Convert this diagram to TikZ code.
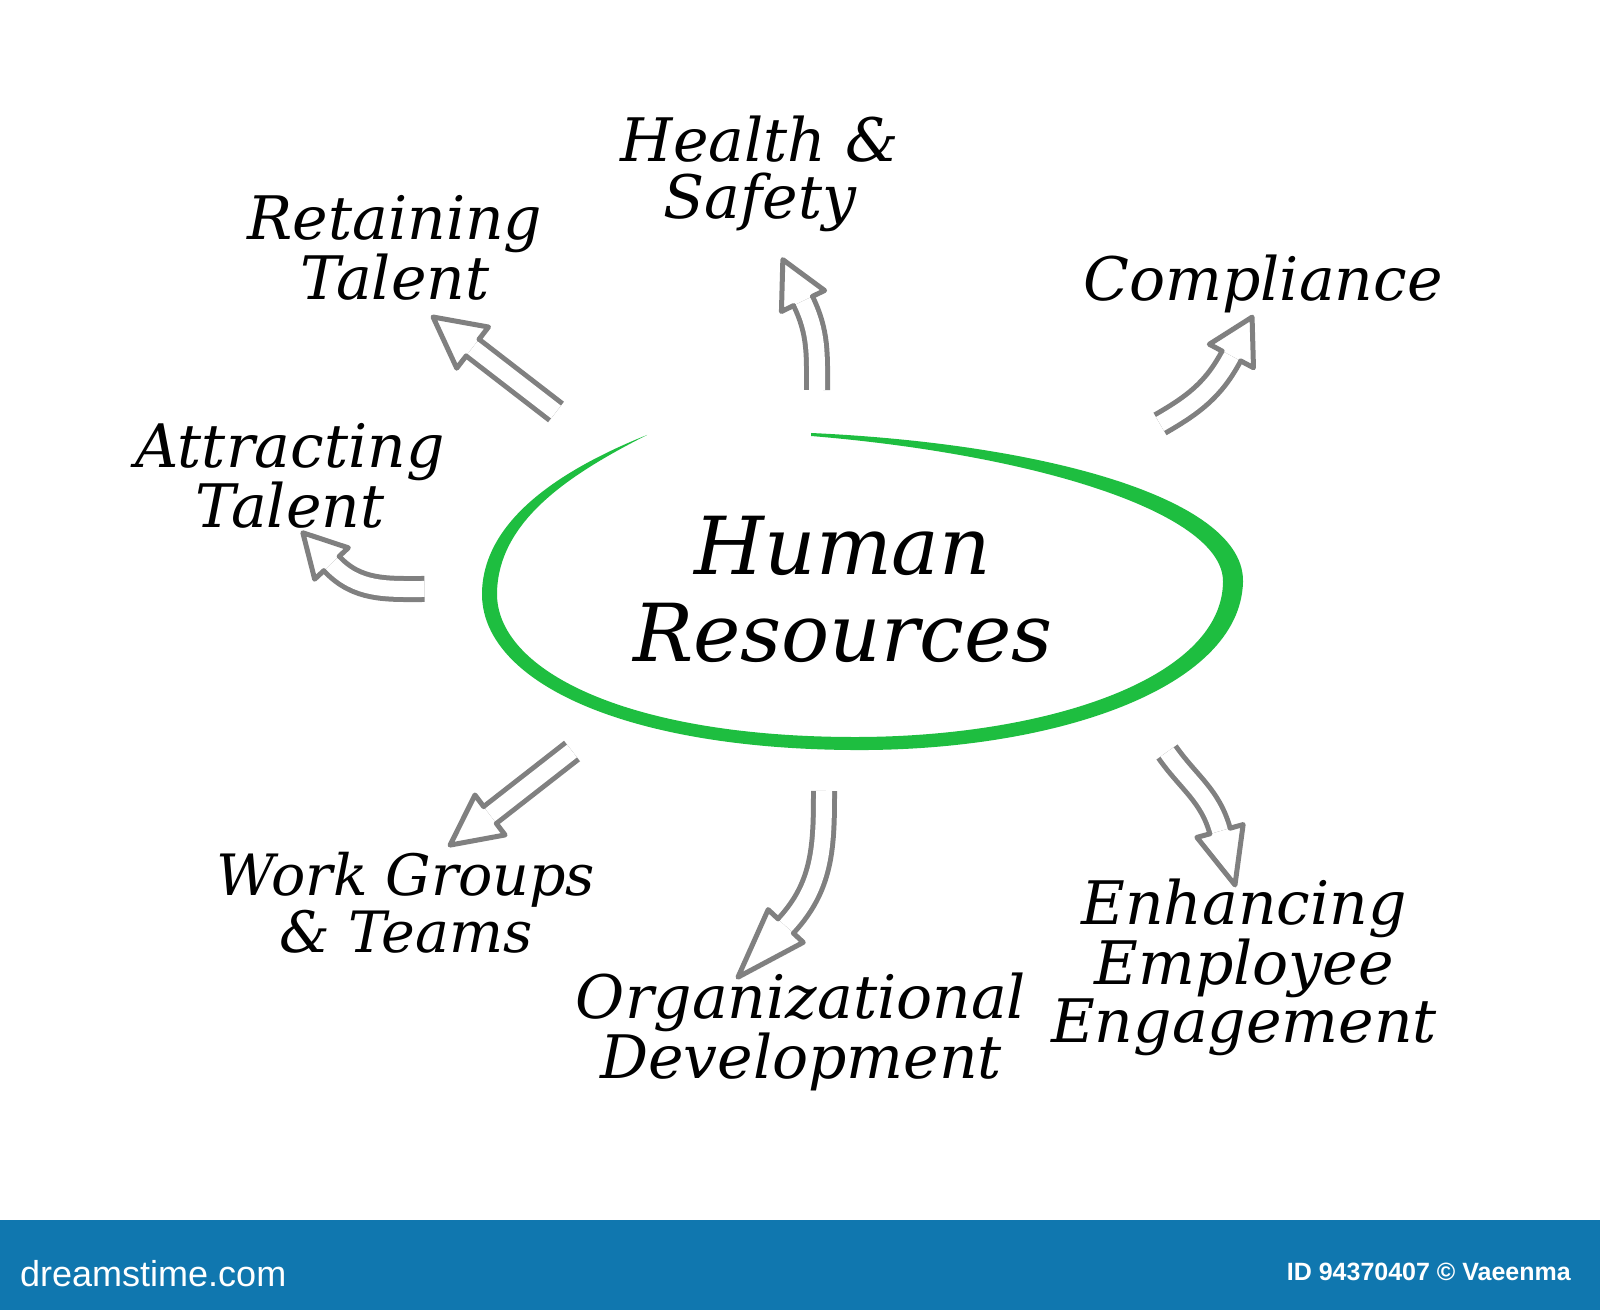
\documentclass[tikz,border=0pt]{standalone}
\usepackage{fontspec}
\setmainfont{DejaVu Serif}
\setsansfont{Liberation Sans}
\definecolor{arrowgray}{RGB}{128,128,128}
\definecolor{hrgreen}{RGB}{30,190,64}
\definecolor{banner}{RGB}{16,119,175}
\begin{document}
\begin{tikzpicture}[x=1pt,y=1pt,
  lbl/.style={font=\fontsize{60}{57}\selectfont\itshape, align=center, inner sep=0pt},
  big/.style={font=\fontsize{80}{87}\selectfont\itshape, align=center, inner sep=0pt},
  shaft/.style={draw=arrowgray, line width=5pt, double=white, double distance=16pt},
  head/.style={draw=arrowgray, line width=5pt, line join=round, line cap=round},
]
\useasboundingbox (0,0) rectangle (1600,1310);
\fill[white] (0,0) rectangle (1600,1310);

% ellipse stroke (tapered brush)
\fill[hrgreen] (811,877) .. controls (1050,866) and (1245,810) .. (1243,728)
  .. controls (1240,620) and (1050,558) .. (850,560)
  .. controls (620,562) and (480,630) .. (482,718)
  .. controls (484,790) and (560,840) .. (647,875)
  .. controls (566,834) and (499,788) .. (497,718)
  .. controls (495,640) and (626,574) .. (850,573)
  .. controls (1042,572) and (1222,630) .. (1223,728)
  .. controls (1224,796) and (1040,855) .. (811,874) -- cycle;

% labels
\node[lbl] (health) at (760,1136) {Health \&\\Safety};
\node[lbl] (retain) at (395,1062) {Retaining\\Talent};
\node[lbl] (compl) at (1263,1026) {Compliance};
\node[lbl] (attract) at (290,834) {Attracting\\Talent};
\node[big] (hr) at (843,721) {Human\\Resources};
\node[lbl,font=\fontsize{57}{57}\selectfont\itshape] (work) at (406,407) {Work Groups\\\& Teams};
\node[lbl] (org) at (801,278) {Organizational\\Development};
\node[lbl] (enh) at (1244,343) {Enhancing\\Employee\\Engagement};

% arrows
\coordinate (rtA) at (556,898); \coordinate (rtB) at (472.6,962.4);
\draw[shaft] (rtA) -- (rtB);
\begin{scope}[shift={(rtB)},rotate=142.3]\draw[head] (0,10.5) -- (0,26) -- (50,0) -- (0,-26) -- (0,-10.5);\end{scope}

\coordinate (hsA) at (817,920); \coordinate (hsB) at (803,1009);
\draw[shaft] (hsA) to[out=90,in=296] (hsB);
\begin{scope}[shift={(hsB)},rotate=116]\draw[head] (0,10.5) -- (0,24) -- (46,0) -- (0,-24) -- (0,-10.5);\end{scope}

\coordinate (cpA) at (1160,886); \coordinate (cpB) at (1231.4,954);
\draw[shaft] (cpA) to[out=30,in=242] (cpB);
\begin{scope}[shift={(cpB)},rotate=62]\draw[head] (0,10.5) -- (0,25) -- (44,0) -- (0,-25) -- (0,-10.5);\end{scope}

\coordinate (atA) at (424.5,721); \coordinate (atB) at (331.5,746.5);
\draw[shaft] (atA) to[out=180,in=313] (atB);
\begin{scope}[shift={(atB)},rotate=133]\draw[head] (0,10.5) -- (0,23) -- (42,0) -- (0,-23) -- (0,-10.5);\end{scope}

\coordinate (wgA) at (572,559); \coordinate (wgB) at (490,495);
\draw[shaft] (wgA) -- (wgB);
\begin{scope}[shift={(wgB)},rotate=217]\draw[head] (0,10.5) -- (0,25) -- (50,0) -- (0,-25) -- (0,-10.5);\end{scope}

\coordinate (odA) at (824,519); \coordinate (odB) at (785.7,384);
\draw[shaft] (odA) to[out=270,in=47] (odB);
\begin{scope}[shift={(odB)},rotate=227]\draw[head] (0,10.5) -- (0,24) -- (70,0) -- (0,-24) -- (0,-10.5);\end{scope}

\coordinate (enA) at (1167,558); \coordinate (enB) at (1220,479);
\draw[shaft] (enA) to[out=-55,in=105.5] (enB);
\begin{scope}[shift={(enB)},rotate=-74.5]\draw[head] (0,10.5) -- (0,24) -- (56,0) -- (0,-24) -- (0,-10.5);\end{scope}

% banner
\fill[banner] (0,0) rectangle (1600,90);
\node[font=\sffamily\fontsize{36}{36}\selectfont, text=white, anchor=west, inner sep=0pt] (ds) at (20,36) {dreamstime.com};
\node[font=\sffamily\bfseries\fontsize{25}{25}\selectfont, text=white, anchor=east, inner sep=0pt] (idt) at (1571,38) {ID 94370407 © Vaeenma};
\end{tikzpicture}
\end{document}
